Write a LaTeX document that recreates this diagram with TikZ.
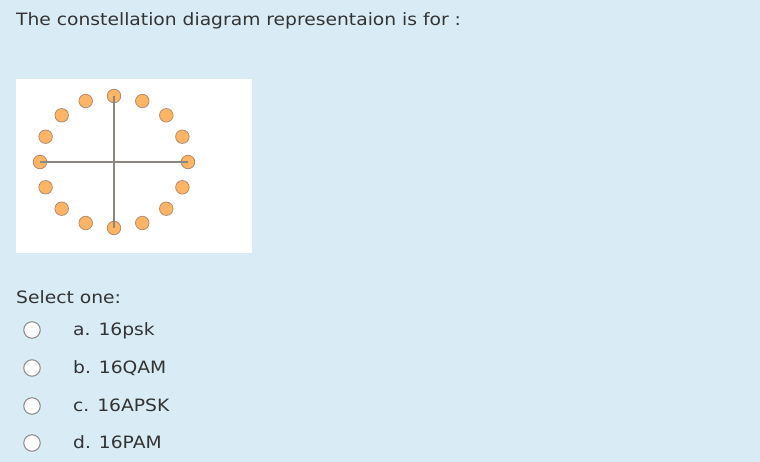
\documentclass[tikz,border=0pt]{standalone}
\usepackage{fontspec}
\usepackage{xcolor}
\usepackage{tikz}
\setmainfont{DejaVu Sans}[FakeStretch = 1.1]
\definecolor{pageBlue}{HTML}{D9ECF6}
\definecolor{inkGrey}{HTML}{333333}
\definecolor{dotOrange}{HTML}{FDB565}
\definecolor{dotRim}{HTML}{B58C6A}
\definecolor{axisGrey}{HTML}{8C8680}
\definecolor{radioGrey}{HTML}{8A8A8A}
\tikzstyle{qtext} = [anchor = base west, inner sep = 0pt, text = inkGrey, font = \fontsize{17}{20}\selectfont]
\tikzstyle{dot} = [circle, draw = dotRim, fill = dotOrange, line width = 0.8pt, minimum size = 13.5pt, inner sep = 0pt]
\tikzstyle{radio} = [circle, draw = radioGrey, fill = white, line width = 1pt, minimum size = 16.5pt, inner sep = 0pt]
\tikzstyle{axis} = [axisGrey, line width = 1.2pt]

\begin{document}
\begin{tikzpicture}[x = 1pt, y = -1pt]
        \fill[pageBlue] (0,0) rectangle (760,462);
        \useasboundingbox (0,0) rectangle (760,462);
        \node(title) [qtext] at (16,25.7) {The constellation diagram representaion is for :};
        \fill[white] (16,79) rectangle (252,253);
        % constellation points
        \node(p0) [dot] at (188,162) {};
        \node(p1) [dot] at (182.4,136.7) {};
        \node(p2) [dot] at (166.3,115.3) {};
        \node(p3) [dot] at (142.3,101) {};
        \node(p4) [dot] at (114,96) {};
        \node(p5) [dot] at (85.7,101) {};
        \node(p6) [dot] at (61.7,115.3) {};
        \node(p7) [dot] at (45.6,136.7) {};
        \node(p8) [dot] at (40,162) {};
        \node(p9) [dot] at (45.6,187.3) {};
        \node(p10) [dot] at (61.7,208.7) {};
        \node(p11) [dot] at (85.7,223) {};
        \node(p12) [dot] at (114,228) {};
        \node(p13) [dot] at (142.3,223) {};
        \node(p14) [dot] at (166.3,208.7) {};
        \node(p15) [dot] at (182.4,187.3) {};
        \draw[axis] (p8.center) -- (p0.center);
        \draw[axis] (p4.center) -- (p12.center);
        % answers
        \node(select) [qtext] at (16,303) {Select one:};
        \node(ra) [radio] at (32,330) {};
        \node(rb) [radio] at (32,368) {};
        \node(rc) [radio] at (32,406) {};
        \node(rd) [radio] at (32,443) {};
        \node(la) [qtext] at (73,335.5) {a. 16psk};
        \node(lb) [qtext] at (73,373.5) {b. 16QAM};
        \node(lc) [qtext] at (73,411.5) {c. 16APSK};
        \node(ld) [qtext] at (73,448.5) {d. 16PAM};
\end{tikzpicture}
\end{document}
